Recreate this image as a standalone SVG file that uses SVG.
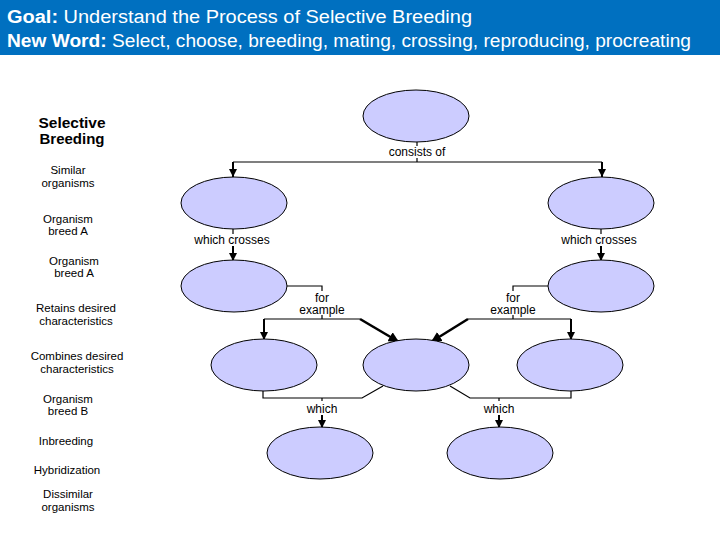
<svg xmlns="http://www.w3.org/2000/svg" width="720" height="540" viewBox="0 0 720 540">
<style>
.hd{font-family:"Liberation Sans",Arial,sans-serif;font-size:18px;fill:#fff}
.b{font-weight:bold}
.lt{font-family:"Liberation Sans",Arial,sans-serif;font-size:11.5px;fill:#000;text-anchor:middle}
.tt{font-family:"Liberation Sans",Arial,sans-serif;font-size:15px;font-weight:bold;fill:#000;text-anchor:middle}
.el{font-family:"Liberation Sans",Arial,sans-serif;font-size:12px;fill:#000;text-anchor:middle}
.nd{fill:#ccccff;stroke:#000;stroke-width:1}
.c{fill:none;stroke:#000;stroke-width:1.2}
.a{fill:none;stroke:#000;stroke-width:2;marker-end:url(#ar)}
.d{fill:none;stroke:#000;stroke-width:2.6;marker-end:url(#ar)}
</style>
<defs>
<marker id="ar" viewBox="0 0 10 10" refX="10" refY="5" markerWidth="4" markerHeight="4" markerUnits="strokeWidth" orient="auto">
<path d="M0,0 L10,5 L0,10 z" fill="#000"/>
</marker>
</defs>
<rect x="0" y="0" width="720" height="55" fill="#0070c0"/>
<text class="hd" x="7" y="23" textLength="465" lengthAdjust="spacingAndGlyphs"><tspan class="b">Goal:</tspan> Understand the Process of Selective Breeding</text>
<text class="hd" x="7" y="47" textLength="684" lengthAdjust="spacingAndGlyphs"><tspan class="b">New Word:</tspan> Select, choose, breeding, mating, crossing, reproducing, procreating</text>
<g id="wordlist">
<text class="tt" x="72" y="128" textLength="67" lengthAdjust="spacingAndGlyphs">Selective</text>
<text class="tt" x="72" y="144">Breeding</text>
<text class="lt" x="68" y="174">Similar</text>
<text class="lt" x="68" y="186.5">organisms</text>
<text class="lt" x="68" y="222.5">Organism</text>
<text class="lt" x="68" y="235">breed A</text>
<text class="lt" x="74" y="264.5">Organism</text>
<text class="lt" x="74" y="277">breed A</text>
<text class="lt" x="76" y="312">Retains desired</text>
<text class="lt" x="76" y="324.5">characteristics</text>
<text class="lt" x="77" y="360">Combines desired</text>
<text class="lt" x="77" y="372.5">characteristics</text>
<text class="lt" x="68" y="402.5">Organism</text>
<text class="lt" x="68" y="415">breed B</text>
<text class="lt" x="66" y="445">Inbreeding</text>
<text class="lt" x="67" y="474">Hybridization</text>
<text class="lt" x="68" y="498">Dissimilar</text>
<text class="lt" x="68" y="510.5">organisms</text>
</g>
<g id="connectors">
<path class="c" d="M417,142 V146 M417,158 V162 M233,162 H602"/>
<path class="a" d="M233,162 V177"/>
<path class="a" d="M602,162 V177"/>
<text class="el" x="417" y="156">consists of</text>
<path class="c" d="M233,229 V234"/>
<text class="el" x="232" y="244">which crosses</text>
<path class="a" d="M233,246 V261"/>
<path class="c" d="M601,229 V234"/>
<text class="el" x="599" y="244">which crosses</text>
<path class="a" d="M601,246 V261"/>
<path class="c" d="M286,286 H322 V291 M322,315 V319 M264,319 H360"/>
<text class="el" x="322" y="301.5">for</text>
<text class="el" x="322" y="314">example</text>
<path class="a" d="M264,319 V340"/>
<path class="d" d="M360,319 L399,342"/>
<path class="c" d="M548,286 H513 V291 M513,315 V319 M468,319 H571"/>
<text class="el" x="513" y="301.5">for</text>
<text class="el" x="513" y="314">example</text>
<path class="a" d="M571,319 V340"/>
<path class="d" d="M468,319 L431,342"/>
<path class="c" d="M263,391 V398 H362 L383,386 M322,398 V401"/>
<text class="el" x="322" y="413">which</text>
<path class="a" d="M322,415 V428"/>
<path class="c" d="M450,386 L470,398 H571 V391 M499,398 V401"/>
<text class="el" x="499" y="413">which</text>
<path class="a" d="M499,415 V428"/>
</g>
<g id="n1"><ellipse class="nd" cx="416" cy="116" rx="53" ry="26"/></g>
<g id="n2"><ellipse class="nd" cx="234" cy="203" rx="53" ry="26"/></g>
<g id="n3"><ellipse class="nd" cx="601" cy="203" rx="53" ry="26"/></g>
<g id="n4"><ellipse class="nd" cx="234" cy="286" rx="53" ry="26"/></g>
<g id="n5"><ellipse class="nd" cx="601" cy="286" rx="53" ry="26"/></g>
<g id="n6"><ellipse class="nd" cx="264" cy="365" rx="53" ry="26"/></g>
<g id="n7"><ellipse class="nd" cx="416" cy="365" rx="53" ry="26"/></g>
<g id="n8"><ellipse class="nd" cx="570" cy="365" rx="53" ry="26"/></g>
<g id="n9"><ellipse class="nd" cx="320" cy="453" rx="53" ry="26"/></g>
<g id="n10"><ellipse class="nd" cx="500" cy="453" rx="53" ry="26"/></g>
</svg>
